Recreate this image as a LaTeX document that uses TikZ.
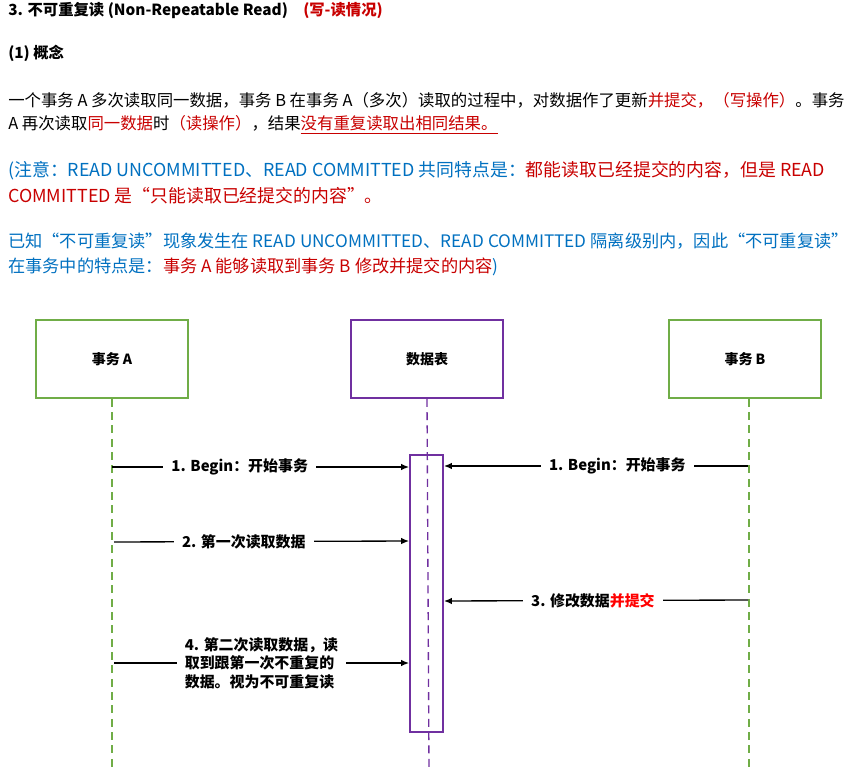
\documentclass[tikz,border=0pt]{standalone}
\usepackage{fontspec}
\setmainfont{Noto Sans CJK SC}
\usetikzlibrary{arrows.meta}
\definecolor{tred}{RGB}{200,0,0}
\definecolor{tblue}{RGB}{0,112,192}
\definecolor{tgreen}{RGB}{112,173,71}
\definecolor{tpurple}{RGB}{112,48,160}
\tikzset{
 txt/.style={anchor=west,inner sep=0pt,font=\fontsize{12.3}{14}\selectfont},
 ntxt/.style={anchor=west,inner sep=0pt,font=\fontsize{13.4}{14}\selectfont},
 actor/.style={draw=tgreen,line width=1.2pt,minimum width=114pt,minimum height=58.5pt,font=\fontsize{10.5}{12}\bfseries\selectfont},
 life/.style={dashed,line width=1pt,dash pattern=on 6pt off 4pt},
 msg/.style={line width=1pt,-{Latex[length=6pt,width=5pt]}},
 lbl/.style={fill=white,inner xsep=6pt,font=\fontsize{11.2}{14}\bfseries\selectfont,align=left}
}
\begin{document}
\begin{tikzpicture}[x=0.75pt,y=-0.75pt]
\useasboundingbox (0,0) rectangle (866,784);
\node[txt,font=\fontsize{11.5}{14}\bfseries\selectfont] (t) at (8,11) {3. 不可重复读 (Non-Repeatable Read)\quad\textcolor{tred}{(写-读情况)}};
\node[txt,font=\fontsize{11.5}{14}\bfseries\selectfont] (c) at (8,53) {(1) 概念};
\node[txt] (p1) at (8,100) {一个事务 A 多次读取同一数据，事务 B 在事务 A（多次）读取的过程中，对数据作了更新\textcolor{tred}{并提交，（写操作）}。事务};
\node[txt] (p2) at (8,125) {A 再次读取\textcolor{tred}{同一数据}时\textcolor{tred}{（读操作）}，结果\textcolor{tred}{\underline{没有重复读取出相同结果。}}};
\node[ntxt,text=tblue] (n1) at (8,171) {(注意：READ UNCOMMITTED、READ COMMITTED 共同特点是：\textcolor{tred}{都能读取已经提交的内容，但是 READ}};
\node[ntxt,text=tred] (n2) at (8,196) {COMMITTED 是“只能读取已经提交的内容”。};
\node[ntxt,text=tblue,font=\fontsize{12.9}{14}\selectfont] (m1) at (8,241) {已知“不可重复读”现象发生在 READ UNCOMMITTED、READ COMMITTED 隔离级别内，因此“不可重复读”};
\node[ntxt,text=tblue,font=\fontsize{12.9}{14}\selectfont] (m2) at (8,267) {在事务中的特点是：\textcolor{tred}{事务 A 能够读取到事务 B 修改并提交的内容})};

\node[actor] (A) at (112,359) {事务 A};
\node[actor,draw=tpurple] (D) at (427,359) {数据表};
\node[actor] (B) at (745,359) {事务 B};
\coordinate (Ae) at (112,770);
\coordinate (De) at (429,770);
\coordinate (Be) at (749,770);
\draw[life,tgreen] (A.south) -- (Ae);
\draw[life,tgreen] (B.south -| Be) -- (Be);
\draw[life,tpurple] (D.south) -- (De);
\node[draw=tpurple,line width=1.2pt,minimum width=25pt,minimum height=207.75pt] (act) at (426.5,593.5) {};

\draw[msg] (112,467) -- (act.west |- 0,467) node[lbl,pos=0.43] {1. Begin：开始事务};
\draw[msg] (748,466) -- (act.east |- 0,466) node[lbl,pos=0.43] {1. Begin：开始事务};
\draw[msg] (114,542) -- (act.west |- 0,541) node[lbl,pos=0.44] {2. 第一次读取数据};
\draw[msg] (748,600) -- (act.east |- 0,601) node[lbl,pos=0.51] {3. 修改数据\textcolor{red}{并提交}};
\draw[msg] (114,663) -- (act.west |- 0,663) node[lbl,pos=0.5] {4. 第二次读取数据，读\\取到跟第一次不重复的\\数据。视为不可重复读};
\end{tikzpicture}
\end{document}
